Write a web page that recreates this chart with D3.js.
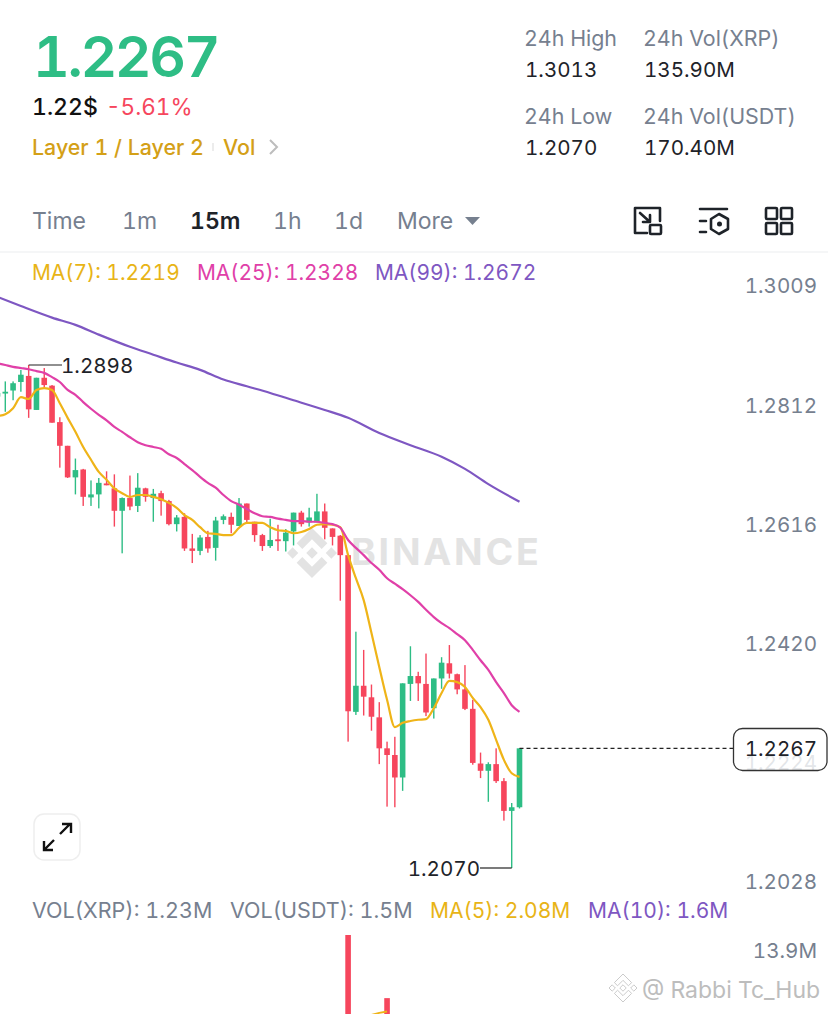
<!DOCTYPE html>
<html>
<head>
<meta charset="utf-8">
<title>XRP/USDT 15m</title>
<script src="https://cdn.jsdelivr.net/npm/d3@7"></script>
<style>
    html, body { margin: 0; padding: 0; background: #fff; }
    svg { display: block; }
    text { font-family: Inter, "Noto Sans", sans-serif; font-variant-numeric: tabular-nums; font-feature-settings: "tnum" 1; }
</style>
</head>
<body>
<div id="chart"></div>
<script>
// candles, left to right (the first one is cut off by the left edge)
const opens = [1.2846,
    1.2851, 1.2856, 1.2870, 1.2880, 1.2824, 1.2877, 1.2864, 1.2804, 1.2765, 1.2713, 1.2726,
    1.2680, 1.2685, 1.2703, 1.2695, 1.2658, 1.2679, 1.2666, 1.2695, 1.2679, 1.2687, 1.2674,
    1.2636, 1.2648, 1.2596, 1.2592, 1.2615, 1.2597, 1.2643, 1.2648, 1.2633, 1.2670, 1.2640,
    1.2618, 1.2600, 1.2611, 1.2608, 1.2624, 1.2655, 1.2639, 1.2639, 1.2657,
    1.2629, 1.2617, 1.2585, 1.2327, 1.2370, 1.2351, 1.2318, 1.2267, 1.2256, 1.2219, 1.2373,
    1.2386, 1.2373, 1.2333, 1.2382, 1.2407, 1.2389, 1.2364, 1.2332, 1.2242, 1.2230, 1.2241,
    1.2213, 1.2164, 1.2170];
const highs = [1.2858,
    1.2871, 1.2871, 1.2890, 1.2898, 1.2877, 1.2893, 1.2865, 1.2812, 1.2765, 1.2744, 1.2727,
    1.2708, 1.2712, 1.2723, 1.2718, 1.2680, 1.2716, 1.2720, 1.2696, 1.2694, 1.2691, 1.2676,
    1.2651, 1.2654, 1.2620, 1.2618, 1.2625, 1.2648, 1.2652, 1.2655, 1.2679, 1.2670, 1.2640,
    1.2620, 1.2645, 1.2635, 1.2628, 1.2655, 1.2658, 1.2663, 1.2686, 1.2670,
    1.2629, 1.2618, 1.2585, 1.2459, 1.2429, 1.2372, 1.2343, 1.2278, 1.2286, 1.2374, 1.2435,
    1.2393, 1.2423, 1.2382, 1.2417, 1.2437, 1.2390, 1.2404, 1.2347, 1.2260, 1.2244, 1.2267,
    1.2218, 1.2177, 1.2267];
const lows = [1.2830,
    1.2821, 1.2840, 1.2854, 1.2811, 1.2824, 1.2860, 1.2803, 1.2729, 1.2712, 1.2685, 1.2666,
    1.2666, 1.2662, 1.2700, 1.2632, 1.2588, 1.2659, 1.2656, 1.2673, 1.2640, 1.2650, 1.2634,
    1.2624, 1.2592, 1.2572, 1.2585, 1.2589, 1.2576, 1.2636, 1.2621, 1.2633, 1.2637, 1.2607,
    1.2592, 1.2597, 1.2592, 1.2591, 1.2601, 1.2632, 1.2632, 1.2639, 1.2611,
    1.2601, 1.2510, 1.2278, 1.2322, 1.2321, 1.2296, 1.2241, 1.2171, 1.2170, 1.2197, 1.2345,
    1.2345, 1.2320, 1.2316, 1.2365, 1.2382, 1.2356, 1.2330, 1.2240, 1.2218, 1.2179, 1.2210,
    1.2148, 1.2070, 1.2168];
const closes = [1.2852,
    1.2854, 1.2868, 1.2882, 1.2825, 1.2877, 1.2865, 1.2803, 1.2765, 1.2713, 1.2725, 1.2681,
    1.2685, 1.2704, 1.2700, 1.2658, 1.2679, 1.2665, 1.2696, 1.2681, 1.2686, 1.2674, 1.2636,
    1.2647, 1.2596, 1.2592, 1.2614, 1.2596, 1.2642, 1.2649, 1.2635, 1.2670, 1.2643, 1.2618,
    1.2600, 1.2610, 1.2608, 1.2622, 1.2655, 1.2636, 1.2647, 1.2657, 1.2630,
    1.2615, 1.2585, 1.2328, 1.2370, 1.2352, 1.2319, 1.2267, 1.2256, 1.2219, 1.2374, 1.2386,
    1.2374, 1.2326, 1.2382, 1.2408, 1.2390, 1.2364, 1.2332, 1.2243, 1.2230, 1.2241, 1.2213,
    1.2164, 1.2170, 1.2267];

const ma7 = [1.2814,
    1.2817, 1.2827, 1.2845, 1.2842, 1.2857, 1.2860, 1.2857, 1.2835, 1.2811, 1.2788, 1.2763,
    1.2742, 1.2722, 1.2709, 1.2695, 1.2687, 1.2681, 1.2684, 1.2684, 1.2681, 1.2677, 1.2671,
    1.2663, 1.2651, 1.2643, 1.2631, 1.2621, 1.2620, 1.2618, 1.2618, 1.2630, 1.2638, 1.2638,
    1.2638, 1.2631, 1.2626, 1.2625, 1.2621, 1.2623, 1.2628, 1.2635, 1.2636,
    1.2635, 1.2631, 1.2585, 1.2547, 1.2511, 1.2457, 1.2401, 1.2347, 1.2302, 1.2309, 1.2312,
    1.2314, 1.2315, 1.2333, 1.2358, 1.2378, 1.2376, 1.2368, 1.2350, 1.2335, 1.2314, 1.2281,
    1.2248, 1.2226, 1.2220];
const ma25 = [1.2901,
    1.2898, 1.2895, 1.2893, 1.2891, 1.2888, 1.2885, 1.2878, 1.2870, 1.2857, 1.2849, 1.2837,
    1.2826, 1.2816, 1.2807, 1.2796, 1.2788, 1.2779, 1.2771, 1.2766, 1.2763, 1.2760, 1.2751,
    1.2745, 1.2735, 1.2725, 1.2714, 1.2704, 1.2696, 1.2684, 1.2674, 1.2668, 1.2661, 1.2654,
    1.2649, 1.2648, 1.2645, 1.2643, 1.2641, 1.2641, 1.2640, 1.2640, 1.2638,
    1.2636, 1.2630, 1.2610, 1.2597, 1.2585, 1.2572, 1.2561, 1.2547, 1.2538, 1.2529, 1.2519,
    1.2508, 1.2495, 1.2483, 1.2473, 1.2465, 1.2455, 1.2445, 1.2429, 1.2412, 1.2396, 1.2376,
    1.2358, 1.2338, 1.2327];
// MA(99) read at a few candles only, it is almost straight
const ma99Bars = [0, 3, 7, 10, 13, 17, 20, 23, 26, 29, 32, 35, 38, 42, 45, 49, 53, 57, 60, 63, 67];
const ma99 = [1.3010, 1.2995, 1.2976, 1.2964, 1.2948, 1.2928, 1.2915, 1.2902, 1.2890, 1.2874, 1.2863,
    1.2852, 1.2840, 1.2824, 1.2811, 1.2786, 1.2766, 1.2747, 1.2727, 1.2702, 1.2673];

const priceTicks = [1.3009, 1.2812, 1.2616, 1.2420, 1.2224, 1.2028];
const highPrice = 1.2898;
const lowPrice = 1.2070;
const lastPrice = 1.2267;

// only the top of the volume pane is in the picture
const volBars = [45, 50];
const volValues = [13.9, 9.4];
const volMaBars = [48, 49, 50];
const volMa = [8.2, 8.35, 8.45];

const headerStats = [
    ['24h High', '1.3013', 525, 46],
    ['24h Vol(XRP)', '135.90M', 644, 46],
    ['24h Low', '1.2070', 525, 124],
    ['24h Vol(USDT)', '170.40M', 644, 124]
];
const tabs = [['Time', 32], ['1m', 122], ['15m', 190], ['1h', 273], ['1d', 334], ['More', 397]];

const GREEN = '#2ebd85';
const RED = '#f6465d';
const GOLD = '#e8b416';
const GOLD_LINE = '#efb418';
const PINK = '#e040a8';
const PURPLE = '#7e57c2';
const GREY = '#76808f';
const DARK = '#1e2329';

const svg = d3.select('#chart').append('svg')
    .attr('width', 828)
    .attr('height', 1014);

const x = d3.scaleLinear().domain([0, 67]).range([-2.5, 519.5]);
const y = d3.scaleLinear().domain([highPrice, lowPrice]).range([365, 868]);
const yVol = d3.scaleLinear().domain([0, 13.9]).range([1130, 935]);

function label(str, px, py, size, color, weight, anchor) {
    return svg.append('text')
        .attr('x', px)
        .attr('y', py)
        .attr('font-size', size)
        .attr('fill', color)
        .attr('font-weight', weight || 400)
        .attr('text-anchor', anchor || 'start')
        .text(str);
}

// binance logo, polygons in a 126.61 box
const logoShapes = [
    '38.73,53.2 63.3,28.62 87.9,53.22 102.2,38.92 63.32,0 24.42,38.9',
    '0,63.31 14.31,49 28.62,63.31 14.31,77.61',
    '38.73,73.41 63.31,97.99 87.9,73.39 102.21,87.69 63.31,126.61 24.41,87.71',
    '97.99,63.31 112.3,49 126.61,63.31 112.3,77.62',
    '77.83,63.3 63.31,48.78 48.81,63.28 63.31,77.82'
];
function logo(px, py, size, fill, stroke) {
    const g = svg.append('g')
        .attr('transform', `translate(${px},${py}) scale(${size / 126.61})`);
    g.selectAll('polygon')
        .data(logoShapes)
        .enter()
        .append('polygon')
        .attr('points', d => d)
        .attr('fill', fill)
        .attr('stroke', stroke || 'none')
        .attr('stroke-width', stroke ? 4 : 0);
}

// header
label('1.2267', 33, 77, 57, GREEN, 600).attr('letter-spacing', -2.4);
label('1.22$', 32, 115, 23, '#111', 500);
label('-5.61%', 106, 115, 22.5, RED, 400);
label('Layer 1 / Layer 2', 32, 155, 21.4, '#d4a017', 500);
label('Vol', 223, 155, 21.4, '#d4a017', 500);
svg.append('line').attr('x1', 213).attr('x2', 213).attr('y1', 143).attr('y2', 151)
    .attr('stroke', '#e6e6e6').attr('stroke-width', 1.5);
svg.append('path').attr('d', 'M270,140 L277,147 L270,154')
    .attr('fill', 'none').attr('stroke', '#bdbdbd').attr('stroke-width', 2);

headerStats.forEach(s => {
    label(s[0], s[2] - 1, s[3], 21.4, GREY);
    label(s[1], s[2], s[3] + 31, 20.6, DARK);
});

// interval tabs
tabs.forEach(t => {
    const active = t[0] === '15m';
    label(t[0], t[1], 229, 23, active ? DARK : GREY, active ? 600 : 400);
});
svg.append('path').attr('d', 'M465,217 L480,217 L472.5,225 Z').attr('fill', GREY);

const icons = svg.append('g')
    .attr('fill', 'none')
    .attr('stroke', DARK)
    .attr('stroke-width', 2.6)
    .attr('stroke-linecap', 'round')
    .attr('stroke-linejoin', 'round');
icons.append('path').attr('d', 'M647,233 L635,233 L635,208 L660,208 L660,221');
icons.append('rect').attr('x', 650).attr('y', 225).attr('width', 11).attr('height', 9).attr('rx', 1);
icons.append('path').attr('d', 'M640,213 L650,222 M650,215 L650,222 L643,222');
icons.append('path').attr('d', 'M700,209 L727,209 M700,221 L706,221 M700,232 L706,232');
icons.append('path').attr('d', 'M719,214 L728,219 L728,229 L719,234 L711,229 L711,219 Z');
icons.append('circle').attr('cx', 719.5).attr('cy', 224).attr('r', 1.2);
[[766, 208], [781, 208], [766, 223], [781, 223]].forEach(p => {
    icons.append('rect').attr('x', p[0]).attr('y', p[1]).attr('width', 11).attr('height', 11).attr('rx', 1);
});

svg.append('line').attr('x1', 0).attr('x2', 828).attr('y1', 252).attr('y2', 252)
    .attr('stroke', '#f2f3f5').attr('stroke-width', 1.5);

// watermark goes under the candles
logo(287, 528, 50, '#e3e3e3');
label('BINANCE', 351, 565, 37.5, '#e3e3e3', 700).attr('letter-spacing', 2.8);

// ma legend
label('MA(7): 1.2219', 32, 280, 20.9, GOLD);
label('MA(25): 1.2328', 197, 280, 20.9, PINK);
label('MA(99): 1.2672', 375, 280, 20.9, PURPLE);

// candles
const candles = svg.append('g').selectAll('g')
    .data(d3.range(opens.length))
    .enter()
    .append('g')
    .attr('fill', i => closes[i] >= opens[i] ? GREEN : RED);

candles.append('rect')
    .attr('x', i => x(i) - 0.7)
    .attr('width', 1.4)
    .attr('y', i => y(highs[i]))
    .attr('height', i => y(lows[i]) - y(highs[i]));

candles.append('rect')
    .attr('x', i => x(i) - 2.8)
    .attr('width', 5.6)
    .attr('y', i => y(Math.max(opens[i], closes[i])))
    .attr('height', i => Math.max(1.5, Math.abs(y(opens[i]) - y(closes[i]))));

// moving averages
const line = d3.line().x(d => x(d[0])).y(d => y(d[1])).curve(d3.curveMonotoneX);

function maLine(bars, values, color, width) {
    svg.append('path')
        .attr('d', line(bars.map((b, i) => [b, values[i]])))
        .attr('fill', 'none')
        .attr('stroke', color)
        .attr('stroke-width', width);
}
maLine(d3.range(ma7.length), ma7, GOLD_LINE, 2.2);
maLine(d3.range(ma25.length), ma25, PINK, 2.2);
maLine(ma99Bars, ma99, PURPLE, 2.2);

// high / low markers
svg.append('path')
    .attr('d', `M${x(4)},${y(highPrice)} L62,${y(highPrice)}`)
    .attr('stroke', '#222').attr('stroke-width', 1.2).attr('fill', 'none');
label('1.2898', 61, y(highPrice) + 8, 20.6, DARK);

svg.append('path')
    .attr('d', `M480,${y(lowPrice)} L${x(66)},${y(lowPrice)}`)
    .attr('stroke', '#222').attr('stroke-width', 1.2).attr('fill', 'none');
label('1.2070', 480, y(lowPrice) + 8, 20.6, DARK, 400, 'end');

// price axis, labels sit a little above their level
const axis = d3.axisRight(y)
    .tickValues(priceTicks)
    .tickSize(0)
    .tickFormat(d3.format('.4f'));
const axisG = svg.append('g').attr('transform', 'translate(817,0)').call(axis);
axisG.select('.domain').remove();
axisG.selectAll('text')
    .attr('x', 0)
    .attr('dy', '-5px')
    .attr('text-anchor', 'end')
    .attr('font-size', 20.6)
    .attr('fill', GREY)
    .style('font-family', 'Inter, "Noto Sans", sans-serif');

// last price
svg.append('line')
    .attr('x1', x(67)).attr('x2', 733)
    .attr('y1', y(lastPrice)).attr('y2', y(lastPrice))
    .attr('stroke', '#222').attr('stroke-width', 1.2).attr('stroke-dasharray', '4 3');
svg.append('rect')
    .attr('x', 733.5).attr('y', 728.5).attr('width', 93.5).attr('height', 42).attr('rx', 9)
    .attr('fill', 'rgba(255,255,255,0.8)').attr('stroke', '#333').attr('stroke-width', 1.3);
label('1.2267', 817, y(lastPrice) + 8, 20.6, DARK, 400, 'end');

// expand button
svg.append('rect')
    .attr('x', 34).attr('y', 814).attr('width', 46).attr('height', 46).attr('rx', 10)
    .attr('fill', '#fff').attr('stroke', '#eeeeee').attr('stroke-width', 1.5);
svg.append('path')
    .attr('d', 'M60,834 L70,824 M62,824 L71,824 L71,833 M54,840 L44,850 M44,841 L44,850 L53,850')
    .attr('fill', 'none').attr('stroke', '#111').attr('stroke-width', 2.4);

// volume pane
label('VOL(XRP): 1.23M', 32, 918, 21.5, GREY);
label('VOL(USDT): 1.5M', 230, 918, 21.5, GREY);
label('MA(5): 2.08M', 430, 918, 21, GOLD);
label('MA(10): 1.6M', 588, 918, 21, PURPLE);
label('13.9M', 817, 958, 20.6, GREY, 400, 'end');

svg.append('g').selectAll('rect')
    .data(volBars)
    .enter()
    .append('rect')
    .attr('x', d => x(d) - 2.8)
    .attr('width', 5.6)
    .attr('y', (d, i) => yVol(volValues[i]))
    .attr('height', (d, i) => yVol(0) - yVol(volValues[i]))
    .attr('fill', RED);

svg.append('path')
    .attr('d', d3.line().x(d => x(d[0])).y(d => yVol(d[1]))(volMaBars.map((b, i) => [b, volMa[i]])))
    .attr('fill', 'none').attr('stroke', GOLD_LINE).attr('stroke-width', 2);

// bottom right watermark
logo(609, 974, 28, '#fff', '#c4c4c4');
label('@ Rabbi Tc_Hub', 642, 998, 23, '#bdbdbd');
</script>
</body>
</html>
